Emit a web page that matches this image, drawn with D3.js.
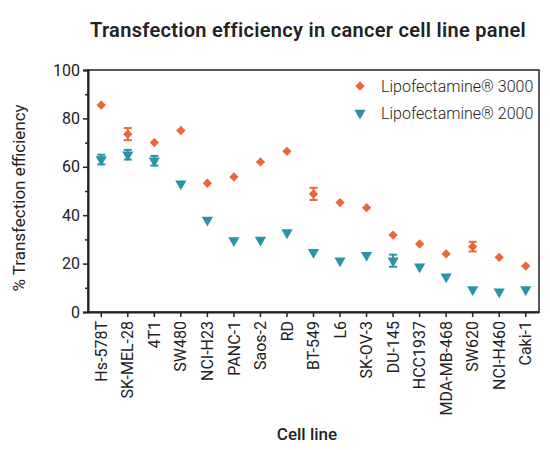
<!DOCTYPE html>
<html>
<head>
<meta charset="utf-8">
<script src="https://cdn.jsdelivr.net/npm/d3@7"></script>
<style>
body { margin: 0; background: #fff; }
text { font-family: Roboto, "DejaVu Sans", sans-serif; fill: #222; }
</style>
</head>
<body>
<svg id="chart"></svg>
<script>
var cellLines = ["Hs-578T", "SK-MEL-28", "4T1", "SW480", "NCI-H23", "PANC-1", "Saos-2", "RD",
    "BT-549", "L6", "SK-OV-3", "DU-145", "HCC1937", "MDA-MB-468", "SW620", "NCI-H460", "Caki-1"];
var lipo3000 = [85.5, 73.5, 70, 75, 53.2, 55.8, 62, 66.4, 48.8, 45.2, 43.1, 31.8, 28.1, 24, 27, 22.6, 19];
var err3000  = [0, 2.5, 0, 0, 0, 0, 0, 0, 2.5, 0, 0, 0, 0, 0, 2, 0, 0];
var lipo2000 = [63, 65, 62.5, 53, 38, 29.5, 29.8, 32.8, 24.7, 21.2, 23.5, 21.2, 18.7, 14.6, 9.3, 8.4, 9.3];
var err2000  = [2, 2, 2, 0, 0, 0, 0, 0, 0, 0, 0, 2.5, 0, 0, 0, 0, 0];
var yTicks = [0, 20, 40, 60, 80, 100];
var yMinor = [10, 30, 50, 70, 90];
var seriesNames = ["Lipofectamine\u00AE 3000", "Lipofectamine\u00AE 2000"];

var W = 550, H = 450;
var pLeft = 88, pRight = 539, pTop = 70, pBottom = 312;
var orange = "#e8663a", teal = "#2a93a8";

var svg = d3.select("#chart").attr("width", W).attr("height", H);

var x = d3.scaleBand().domain(cellLines).range([pLeft, pRight]);
var y = d3.scaleLinear().domain([0, 100]).range([pBottom, pTop]);

// frame
svg.append("rect")
    .attr("x", pLeft).attr("y", pTop)
    .attr("width", pRight - pLeft).attr("height", pBottom - pTop)
    .attr("fill", "none").attr("stroke", "#222").attr("stroke-width", 1.5);

// y axis
var yAxis = svg.append("g")
    .attr("transform", `translate(${pLeft},0)`)
    .call(d3.axisLeft(y).tickValues(yTicks).tickSize(5).tickPadding(3));
yAxis.selectAll("text").style("font-size", "16px");
svg.append("g")
    .attr("transform", `translate(${pLeft},0)`)
    .call(d3.axisLeft(y).tickValues(yMinor).tickSize(3).tickFormat(""))
    .select(".domain").remove();

// x axis
var xAxis = svg.append("g")
    .attr("transform", `translate(0,${pBottom})`)
    .call(d3.axisBottom(x).tickSize(5).tickSizeOuter(0));
xAxis.selectAll("text")
    .style("font-size", "16px")
    .attr("transform", "rotate(-90)")
    .attr("text-anchor", "end")
    .attr("x", -9).attr("y", 0).attr("dy", "0.35em");

svg.selectAll(".domain").attr("stroke", "#222").attr("stroke-width", 2);
svg.selectAll(".tick line").attr("stroke", "#222").attr("stroke-width", 1.5);

var cx = function(i) { return x(cellLines[i]) + x.bandwidth() / 2; };
var diamond = d3.symbol().type(d3.symbolDiamond2).size(55);
var triangle = d3.symbol().type(d3.symbolTriangle).size(55);

function errorBars(vals, errs, color) {
    var g = svg.append("g").attr("stroke", color).attr("stroke-width", 2);
    vals.forEach(function(v, i) {
        if (!errs[i]) return;
        var c = cx(i);
        g.append("line").attr("x1", c).attr("x2", c).attr("y1", y(v - errs[i])).attr("y2", y(v + errs[i]));
        g.append("line").attr("x1", c - 4).attr("x2", c + 4).attr("y1", y(v - errs[i])).attr("y2", y(v - errs[i]));
        g.append("line").attr("x1", c - 4).attr("x2", c + 4).attr("y1", y(v + errs[i])).attr("y2", y(v + errs[i]));
    });
}
errorBars(lipo3000, err3000, orange);
errorBars(lipo2000, err2000, teal);

svg.append("g").selectAll("path")
    .data(lipo3000).enter().append("path")
    .attr("d", diamond)
    .attr("transform", function(d, i) { return `translate(${cx(i)},${y(d)})`; })
    .attr("fill", orange);

svg.append("g").selectAll("path")
    .data(lipo2000).enter().append("path")
    .attr("d", triangle)
    .attr("transform", function(d, i) { return `translate(${cx(i)},${y(d)}) rotate(180)`; })
    .attr("fill", teal);

// legend
var leg = svg.append("g");
leg.append("path").attr("d", diamond).attr("transform", "translate(360,86)").attr("fill", orange);
leg.append("path").attr("d", triangle).attr("transform", "translate(360,113) rotate(180)").attr("fill", teal);
leg.append("text").attr("x", 381).attr("y", 92).style("font-size", "16px").style("font-weight", 300).text(seriesNames[0]);
leg.append("text").attr("x", 381).attr("y", 119).style("font-size", "16px").style("font-weight", 300).text(seriesNames[1]);

// titles
svg.append("text")
    .attr("x", 308).attr("y", 37)
    .attr("text-anchor", "middle")
    .style("font-size", "20px").style("font-weight", 600)
    .style("letter-spacing", "0.3px")
    .text("Transfection efficiency in cancer cell line panel");

svg.append("text")
    .attr("transform", "rotate(-90)")
    .attr("x", -198).attr("y", 25)
    .attr("text-anchor", "middle")
    .style("font-size", "17px")
    .text("% Transfection efficiency");

svg.append("text")
    .attr("x", 307).attr("y", 440)
    .attr("text-anchor", "middle")
    .style("font-size", "17px").style("font-weight", 500)
    .text("Cell line");
</script>
</body>
</html>
